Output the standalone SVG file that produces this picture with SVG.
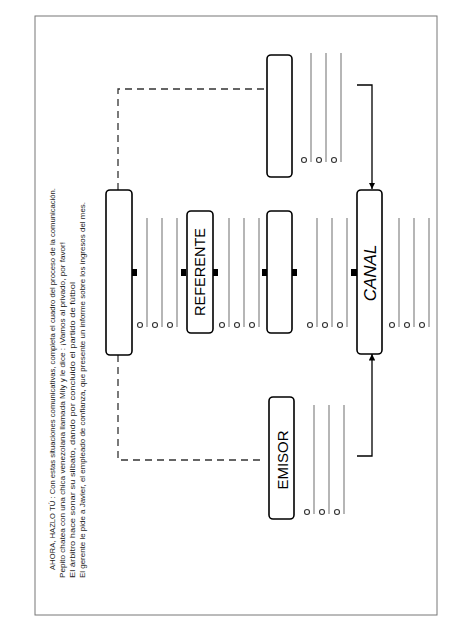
<svg xmlns="http://www.w3.org/2000/svg" width="474" height="632" viewBox="0 0 474 632">
<style>
.box{fill:#fff;stroke:#000;stroke-width:1.6}
.sq{fill:#000}
.ln{stroke:#7a7a7a;stroke-width:1.1}
.ci{fill:#fff;stroke:#333;stroke-width:1.1}
.dash{fill:none;stroke:#333;stroke-width:1.3;stroke-dasharray:7 5}
.con{fill:none;stroke:#000;stroke-width:1.3}
.t{font-family:"Liberation Sans","DejaVu Sans",sans-serif;font-size:8px;fill:#222}
.lbl{font-family:"Liberation Sans","DejaVu Sans",sans-serif;fill:#000;text-anchor:middle}
</style>
<defs>
<marker id="ah" viewBox="0 0 10 10" refX="10" refY="5" markerWidth="5" markerHeight="5" orient="auto">
<path d="M0,0 L10,5 L0,10 z" fill="#000"/>
</marker>
<g id="ticks">
<line class="ln" x1="7" y1="0" x2="7" y2="109"/>
<line class="ln" x1="22" y1="0" x2="22" y2="109"/>
<line class="ln" x1="37" y1="0" x2="37" y2="109"/>
<circle class="ci" cx="0" cy="107" r="2.5"/>
<circle class="ci" cx="15" cy="107" r="2.5"/>
<circle class="ci" cx="30" cy="107" r="2.5"/>
</g>
</defs>
<rect x="35" y="16" width="402" height="599" fill="#fff" stroke="#777" stroke-width="1"/>
<g id="instructions">
<text class="t" transform="translate(55,570) rotate(-90)" textLength="382" lengthAdjust="spacingAndGlyphs">AHORA, HAZLO TÚ : Con estas situaciones comunicativas, completa el cuadro del proceso de la comunicación.</text>
<text class="t" transform="translate(65,578) rotate(-90)" textLength="336" lengthAdjust="spacingAndGlyphs">Pepito chatea con una chica venezolana llamada Mily y le dice : ¡Vamos al privado, por favor!</text>
<text class="t" transform="translate(75,578) rotate(-90)" textLength="296" lengthAdjust="spacingAndGlyphs">El árbitro hace sonar su silbato, dando por concluido el partido de fútbol</text>
<text class="t" transform="translate(85,578) rotate(-90)" textLength="376" lengthAdjust="spacingAndGlyphs">El gerente le pide a Javier, el empleado de confianza, que presente un informe sobre los ingresos del mes.</text>
</g>
<g id="connectors">
<polyline class="dash" points="118,190 118,89 267,89"/>
<polyline class="dash" points="118,355 118,460 262,460"/>
<polyline class="con" points="357,85 372,85 372,189" marker-end="url(#ah)"/>
<polyline class="con" points="357,456 372,456 372,354" marker-end="url(#ah)"/>
</g>
<g id="node-a">
<rect class="box" x="106" y="190" width="26" height="165" rx="4"/>
<rect class="sq" x="132" y="269" width="5" height="7"/>
<use href="#ticks" x="140" y="218"/>
</g>
<g id="node-referente">
<rect class="box" x="187" y="211" width="26" height="122" rx="4"/>
<rect class="sq" x="181" y="269" width="5" height="7"/>
<rect class="sq" x="213" y="269" width="5" height="7"/>
<text class="lbl" font-size="14.5" transform="translate(205,272) rotate(-90)">REFERENTE</text>
<use href="#ticks" x="222" y="218"/>
</g>
<g id="node-c">
<rect class="box" x="267" y="211" width="25" height="122" rx="4"/>
<rect class="sq" x="262" y="269" width="5" height="7"/>
<rect class="sq" x="292" y="269" width="5" height="7"/>
<use href="#ticks" x="310" y="218"/>
</g>
<g id="node-b">
<rect class="box" x="267" y="55" width="25" height="122" rx="4"/>
<use href="#ticks" x="304" y="53"/>
</g>
<g id="node-emisor">
<rect class="box" x="269" y="397" width="25" height="122" rx="4"/>
<text class="lbl" font-size="15" transform="translate(287.5,460) rotate(-90)">EMISOR</text>
<use href="#ticks" x="307" y="405"/>
</g>
<g id="node-canal">
<rect class="box" x="357" y="190" width="25" height="164" rx="4"/>
<rect class="sq" x="351" y="269" width="6" height="7"/>
<text class="lbl" font-size="17" font-style="italic" transform="translate(376,273) rotate(-90)">CANAL</text>
<use href="#ticks" x="392" y="218"/>
</g>
</svg>
